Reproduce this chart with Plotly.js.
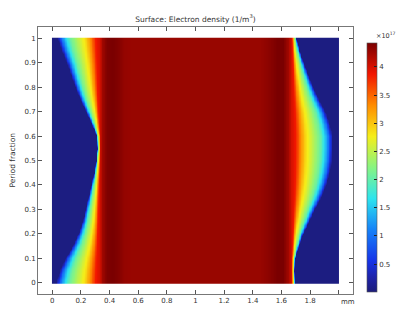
<!DOCTYPE html>
<html>
<head>
<meta charset="utf-8">
<script src="https://cdn.plot.ly/plotly-3.0.1.min.js"></script>
<style>
html,body{margin:0;padding:0;background:#fff;}
#chart{width:413px;height:312px;}
</style>
</head>
<body>
<div id="chart"></div>
<script>
// ---- data ----
const periodFraction   = [0, 0.05, 0.1, 0.15, 0.2, 0.25, 0.3, 0.35, 0.4, 0.45, 0.5, 0.55, 0.6, 0.65, 0.7, 0.75, 0.8, 0.85, 0.9, 0.95, 1];
// position (mm) of the low-density (sheath) edge on each side
const leftSheathEdge   = [0.025, 0.05, 0.09, 0.14, 0.18, 0.21, 0.23, 0.25, 0.27, 0.29, 0.305, 0.315, 0.31, 0.275, 0.235, 0.195, 0.16, 0.13, 0.1, 0.065, 0.035];
const rightSheathEdge  = [1.695, 1.69, 1.695, 1.72, 1.75, 1.79, 1.83, 1.875, 1.91, 1.935, 1.95, 1.955, 1.955, 1.935, 1.905, 1.86, 1.82, 1.785, 1.755, 1.725, 1.705];
// position (mm) where the bulk plasma begins on each side
const leftBulkEdge     = 0.33;
const rightBulkEdge    = 1.67;
// density (1e17 1/m^3) across the sheath, vs. fraction of distance from bulk edge to sheath edge
const gradientFraction = [0, 0.1, 0.2, 0.35, 0.55, 0.7, 0.8, 0.9, 0.96, 1.0];
const gradientDensity  = [4.0, 3.85, 3.4, 2.85, 2.4, 2.05, 1.6, 1.0, 0.45, 0.12];
// density in the bulk plasma
const bulkPosition     = [0.33, 0.35, 0.38, 0.42, 0.46, 0.5, 0.55, 1.0, 1.45, 1.52, 1.57, 1.61, 1.645, 1.67];
const bulkDensity      = [4.0, 4.25, 4.4, 4.42, 4.38, 4.3, 4.28, 4.28, 4.28, 4.35, 4.42, 4.42, 4.25, 4.0];
const sheathDensity    = 0.04;
const densityMax       = 4.42;
const xTickVals        = [0, 0.2, 0.4, 0.6, 0.8, 1, 1.2, 1.4, 1.6, 1.8, 2];
const xTickText        = ['0', '0.2', '0.4', '0.6', '0.8', '1', '1.2', '1.4', '1.6', '1.8', ''];
const yTickVals        = [0, 0.1, 0.2, 0.3, 0.4, 0.5, 0.6, 0.7, 0.8, 0.9, 1];
const yTickText        = ['0', '0.1', '0.2', '0.3', '0.4', '0.5', '0.6', '0.7', '0.8', '0.9', '1'];
const cbTickVals       = [0.5, 1, 1.5, 2, 2.5, 3, 3.5, 4];
const cbTickText       = ['0.5', '1', '1.5', '2', '2.5', '3', '3.5', '4'];

// ---- build the surface grid from the arrays ----
function interp(xs, ys, x) {
  if (x <= xs[0]) return ys[0];
  if (x >= xs[xs.length - 1]) return ys[ys.length - 1];
  for (let i = 1; i < xs.length; i++) {
    if (x <= xs[i]) {
      const t = (x - xs[i - 1]) / (xs[i] - xs[i - 1]);
      return ys[i - 1] + t * (ys[i] - ys[i - 1]);
    }
  }
  return ys[ys.length - 1];
}
const xGrid = [], yGrid = [];
for (let i = 0; i <= 400; i++) xGrid.push(i * 0.005);
for (let j = 0; j <= 200; j++) yGrid.push(j * 0.005);
const zGrid = yGrid.map(function (y) {
  const sL = Math.min(interp(periodFraction, leftSheathEdge, y), leftBulkEdge - 0.015);
  const sR = Math.max(interp(periodFraction, rightSheathEdge, y), rightBulkEdge + 0.015);
  return xGrid.map(function (x) {
    if (x <= sL) return sheathDensity;
    if (x < leftBulkEdge) return interp(gradientFraction, gradientDensity, (leftBulkEdge - x) / (leftBulkEdge - sL));
    if (x <= rightBulkEdge) return interp(bulkPosition, bulkDensity, x);
    if (x < sR) return interp(gradientFraction, gradientDensity, (x - rightBulkEdge) / (sR - rightBulkEdge));
    return sheathDensity;
  });
});

const colorscale = [
  [0, 'rgb(28,28,122)'],
  [0.06, 'rgb(30,35,170)'],
  [0.125, 'rgb(22,52,232)'],
  [0.25, 'rgb(22,130,248)'],
  [0.375, 'rgb(45,228,238)'],
  [0.5, 'rgb(135,244,130)'],
  [0.625, 'rgb(245,238,25)'],
  [0.75, 'rgb(255,140,0)'],
  [0.875, 'rgb(242,22,0)'],
  [1, 'rgb(122,0,0)']
];

const fontFam = 'DejaVu Sans, Arial, sans-serif';
const trace = {
  type: 'heatmap',
  x: xGrid, y: yGrid, z: zGrid,
  zmin: 0, zmax: densityMax,
  zsmooth: 'best',
  colorscale: colorscale,
  hoverinfo: 'skip',
  colorbar: {
    x: 1.0435, xanchor: 'left', xpad: 0,
    y: 0.939, yanchor: 'top', ypad: 0,
    len: 249, lenmode: 'pixels',
    thickness: 9.5, thicknessmode: 'pixels',
    outlinewidth: 0.6, outlinecolor: '#555',
    tickvals: cbTickVals, ticktext: cbTickText,
    ticks: 'inside', ticklen: 3, tickcolor: '#222', tickwidth: 1,
    tickfont: {family: fontFam, size: 7, color: '#333'}
  }
};

const axisCommon = {
  showline: true, linecolor: '#777', linewidth: 1, mirror: 'ticks',
  ticks: 'inside', ticklen: 4, tickcolor: '#555', tickwidth: 1,
  showgrid: false, zeroline: false,
  tickfont: {family: fontFam, size: 7, color: '#333'},
  tickmode: 'array'
};

const layout = {
  width: 413, height: 312,
  margin: {l: 38, r: 60, t: 27, b: 18, pad: 0},
  paper_bgcolor: '#fff', plot_bgcolor: '#fff',
  title: {
    text: 'Surface: Electron density (1/m<sup>3</sup>)',
    font: {family: fontFam, size: 7.5, color: '#333'},
    x: 0.5, xref: 'paper', xanchor: 'center',
    y: 1 - 19 / 312, yref: 'container', yanchor: 'middle'
  },
  xaxis: Object.assign({}, axisCommon, {
    range: [-0.1, 2.1], tickvals: xTickVals, ticktext: xTickText
  }),
  yaxis: Object.assign({}, axisCommon, {
    range: [-0.0465, 1.0465], tickvals: yTickVals, ticktext: yTickText
  }),
  annotations: [
    {text: 'Period fraction', xref: 'paper', yref: 'paper', x: -26 / 315, y: 0.5,
     xanchor: 'center', yanchor: 'middle', textangle: -90, showarrow: false,
     font: {family: fontFam, size: 7.5, color: '#333'}},
    {text: 'mm', xref: 'x', yref: 'paper', x: 2.065, y: 0, yanchor: 'top', yshift: -2,
     xanchor: 'center', showarrow: false,
     font: {family: fontFam, size: 7, color: '#333'}},
    {text: '×10<sup>17</sup>', xref: 'paper', yref: 'paper', x: (374 - 38) / 315, y: (294 - 36) / 267,
     xanchor: 'left', yanchor: 'middle', showarrow: false,
     font: {family: fontFam, size: 6.5, color: '#333'}}
  ]
};

Plotly.newPlot('chart', [trace], layout, {displayModeBar: false, staticPlot: true});
</script>
</body>
</html>
